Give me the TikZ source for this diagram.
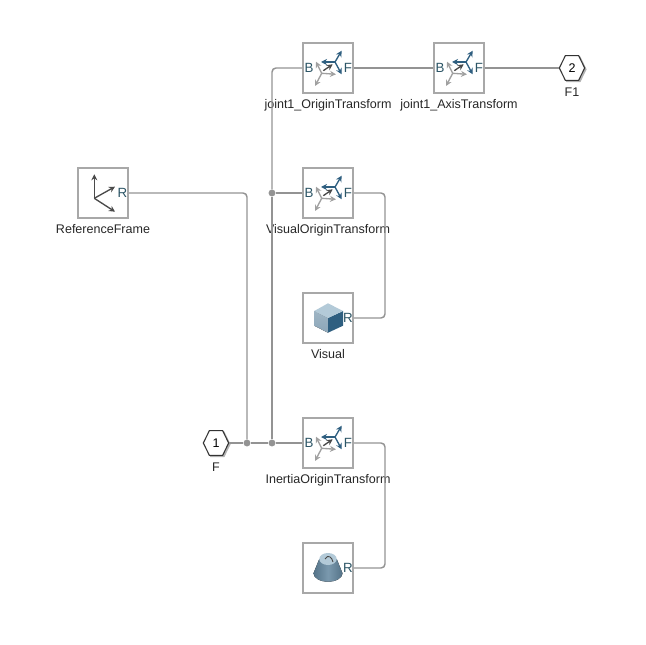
\documentclass[tikz,border=0pt]{standalone}
\usepackage{fontspec}
\setmainfont{Liberation Sans}
\usetikzlibrary{shapes.symbols,shadows,calc,arrows.meta}
\definecolor{wire}{HTML}{939393}
\definecolor{edge}{HTML}{A8A8A8}
\definecolor{porttext}{HTML}{2C5566}
\definecolor{axisblue}{HTML}{2F5F80}
\definecolor{axisgray}{HTML}{A0A0A0}
\definecolor{axisdark}{HTML}{4A4A4A}
\colorlet{cubeleft}{axisblue!55!white}
\colorlet{bodyblue}{axisblue!75!white}
\definecolor{cubetop}{HTML}{B3CAD8}
\tikzset{
	xform/.pic = {
		\draw[axis, axisgray] (-6.3,5.3) -- (-12,-6.3);
		\draw[axis, axisgray] (-6.3,5.3) -- (8,6.3);
		\draw[axis, axisgray] (-6.3,5.3) -- (-13,18);
		\draw[axis, axisblue] (7,-6) -- (13.7,-17.3);
		\draw[axis, axisblue] (7,-6) -- (-7,-6);
		\draw[axis, axisblue] (7,-6) -- (13.7,6.3);
		\draw[axis, axisdark] (-4.7,2.7) -- (4.7,-3.7);
		\node(-b)[port] at (-19,0) {B};
		\node(-f)[port] at (20,0) {F};
	},
	frameicon/.pic = {
		\draw[axis, axisdark] (-8.7,5.3) -- (-8.7,-18.7);
		\draw[axis, axisdark] (-8.7,5.3) -- (12,-6.3);
		\draw[axis, axisdark] (-8.7,5.3) -- (12,18.7);
		\node(-r)[port] at (19.5,0) {R};
	},
	cubeicon/.pic = {
		\fill[top color=cubeleft!85!white, bottom color=cubeleft] (0,0) -- (-13.7,-7) -- (-13.7,7.7) -- (0,14.7) -- cycle;
		\fill[axisblue] (0,0) -- (15,-7) -- (15,7.7) -- (0,14.7) -- cycle;
		\fill[cubetop] (0,0) -- (-13.7,-7) -- (0,-14.7) -- (15,-7) -- cycle;
		\node(-r)[port] at (20,0) {R};
	},
	inertiaicon/.pic = {
		\fill[left color=bodyblue!85!black, right color=bodyblue!85!black, middle color=bodyblue!85!white] (-8.7,-9) -- (-14.5,5.3) arc[start angle=180, end angle=0, x radius=14.5, y radius=8.4] -- (8.7,-9) -- cycle;
		\fill[cubetop] (0,-9) ellipse[x radius=8.7, y radius=6];
		\draw[axisdark, line width=.7pt] (-3,-9) .. controls (0,-14) and (4,-11) .. (5,-6);
		\node(-r)[port] at (20,0) {R};
	}
}
\begin{document}
\begin{tikzpicture}[x=.75pt, y=-.75pt, node distance = 93.75pt, font=\fontsize{9.4}{11}\selectfont]
	\tikzstyle{block} = [rectangle, draw = edge, fill = white, line width = 1.2pt, minimum size = 37.5pt, inner sep = 0pt]
	\tikzstyle{lbl} = [text = black!85, inner sep = 3.8pt]
	\tikzstyle{iolbl} = [text = black!85, inner sep = 5.2pt]
	\tikzstyle{io} = [signal, signal to = west and east, signal pointer angle = 128, draw = black!80, fill = white, line width = .8pt, minimum width = 19pt, minimum height = 18.5pt, inner sep = 0pt, copy shadow = {shadow xshift = 1pt, shadow yshift = -1pt, draw = black!30, fill = black!30}]
	\tikzstyle{port} = [text = porttext, inner sep = 0pt, font = \fontsize{10}{11}\selectfont]
	\tikzstyle{line} = [draw = wire, line width = 1.1pt, rounded corners = 3pt]
	\tikzstyle{axis} = [line width = 1pt, -{Stealth[length=4.5pt, width=4.5pt]}]
	\tikzstyle{dot} = [circle, fill = wire, inner sep = 0pt, minimum size = 5.2pt]
	\path[use as bounding box] (0,0) rectangle (646,645);
	\node(j1)[block, label = {[lbl]below:joint1\_OriginTransform}] at (328,68) {};
	\node(vo)[block, label = {[lbl]below:VisualOriginTransform}, below of = j1] {};
	\node(vis)[block, label = {[lbl]below:Visual}, below of = vo] {};
	\node(io)[block, label = {[lbl]below:InertiaOriginTransform}, below of = vis] {};
	\node(in)[block, below of = io] {};
	\node(j1a)[block, label = {[lbl]below:joint1\_AxisTransform}, right of = j1, node distance = 98.25pt] {};
	\node(rf)[block, label = {[lbl]below:ReferenceFrame}, left of = vo, node distance = 168.75pt] {};
	\node(p1)[io, label = {[iolbl]below:F}, left of = io, node distance = 84pt] {1};
	\node(p2)[io, label = {[iolbl]below:F1}, right of = j1a, node distance = 84.75pt] {2};
	\pic(j1i) at (j1) {xform};
	\pic(j1ai) at (j1a) {xform};
	\pic(voi) at (vo) {xform};
	\pic(ioi) at (io) {xform};
	\pic(rfi) at (rf) {frameicon};
	\pic(visi) at (vis) {cubeicon};
	\pic(ini) at (in) {inertiaicon};
	\node(d1)[dot] at (247,443) {};
	\node(d2)[dot] at (272,443) {};
	\node(d3)[dot] at (272,193) {};
	\coordinate(r1) at (385,255);
	\coordinate(r2) at (385,505);
	\draw[line](j1.east) -- (j1a.west);
	\draw[line](j1a.east) -- (p2.west);
	\draw[line](p1.east) -- (d1);
	\draw[line](d1) -- (d2);
	\draw[line](d2) -- (io.west);
	\draw[line](rf.east) -| (d1);
	\draw[line](d2) -- (d3);
	\draw[line](d3) |- (j1.west);
	\draw[line](d3) -- (vo.west);
	\draw[line](vo.east) -| (r1) |- (vis.east);
	\draw[line](io.east) -| (r2) |- (in.east);
\end{tikzpicture}
\end{document}
